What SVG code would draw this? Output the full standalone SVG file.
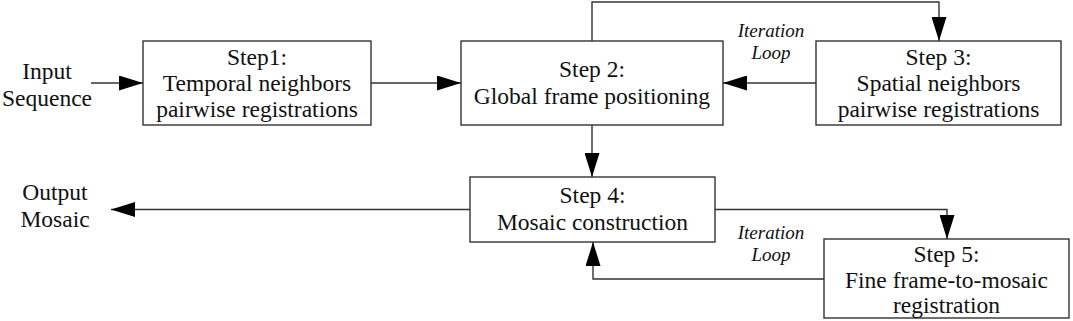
<svg xmlns="http://www.w3.org/2000/svg" width="1073" height="321" viewBox="0 0 1073 321">
<style>
.box{fill:#fff;stroke:#333;stroke-width:1.4}
.t{font-family:"Liberation Serif","Times New Roman",serif;font-size:23.5px;fill:#111;text-anchor:middle}
.i{font-family:"Liberation Serif","Times New Roman",serif;font-size:19px;font-style:italic;fill:#111;text-anchor:middle}
.c{fill:none;stroke:#333;stroke-width:1.4}
</style>
<defs>
<marker id="ah" markerUnits="userSpaceOnUse" markerWidth="24" markerHeight="15" refX="24" refY="7.5" orient="auto">
<path d="M0,0 L24,7.5 L0,15 z" fill="#000"/>
</marker>
</defs>
<rect width="1073" height="321" fill="#fff"/>
<g id="connectors">
<path class="c" d="M91,83 H143" marker-end="url(#ah)"/>
<path class="c" d="M371,83 H461" marker-end="url(#ah)"/>
<path class="c" d="M816,83 H723" marker-end="url(#ah)"/>
<path class="c" d="M592,41 V2 H939 V41" marker-end="url(#ah)"/>
<path class="c" d="M592,125 V177" marker-end="url(#ah)"/>
<path class="c" d="M470,209.5 H111" marker-end="url(#ah)"/>
<path class="c" d="M715,209.5 H947 V239" marker-end="url(#ah)"/>
<path class="c" d="M824,279 H593 V242" marker-end="url(#ah)"/>
</g>
<g id="input"><text class="t" x="47" y="79">Input</text><text class="t" x="47" y="106">Sequence</text></g>
<g id="output"><text class="t" x="55" y="200">Output</text><text class="t" x="55" y="227">Mosaic</text></g>
<g id="step1"><rect class="box" x="143" y="41" width="228" height="84"/>
<text class="t" x="257" y="65">Step1:</text><text class="t" x="257" y="91">Temporal neighbors</text><text class="t" x="257" y="117">pairwise registrations</text></g>
<g id="step2"><rect class="box" x="461" y="41" width="262" height="84"/>
<text class="t" x="592" y="77">Step 2:</text><text class="t" x="592" y="104">Global frame positioning</text></g>
<g id="step3"><rect class="box" x="816" y="41" width="245" height="84"/>
<text class="t" x="938.5" y="65">Step 3:</text><text class="t" x="938.5" y="91">Spatial neighbors</text><text class="t" x="938.5" y="117">pairwise registrations</text></g>
<g id="step4"><rect class="box" x="470" y="177" width="245" height="65"/>
<text class="t" x="592.5" y="203">Step 4:</text><text class="t" x="592.5" y="230">Mosaic construction</text></g>
<g id="step5"><rect class="box" x="824" y="239" width="245" height="79"/>
<text class="t" x="946.5" y="262">Step 5:</text><text class="t" x="946.5" y="288">Fine frame-to-mosaic</text><text class="t" x="946.5" y="313">registration</text></g>
<g id="loop1"><text class="i" x="771" y="37">Iteration</text><text class="i" x="771" y="59">Loop</text></g>
<g id="loop2"><text class="i" x="771" y="239">Iteration</text><text class="i" x="771" y="261">Loop</text></g>
</svg>
